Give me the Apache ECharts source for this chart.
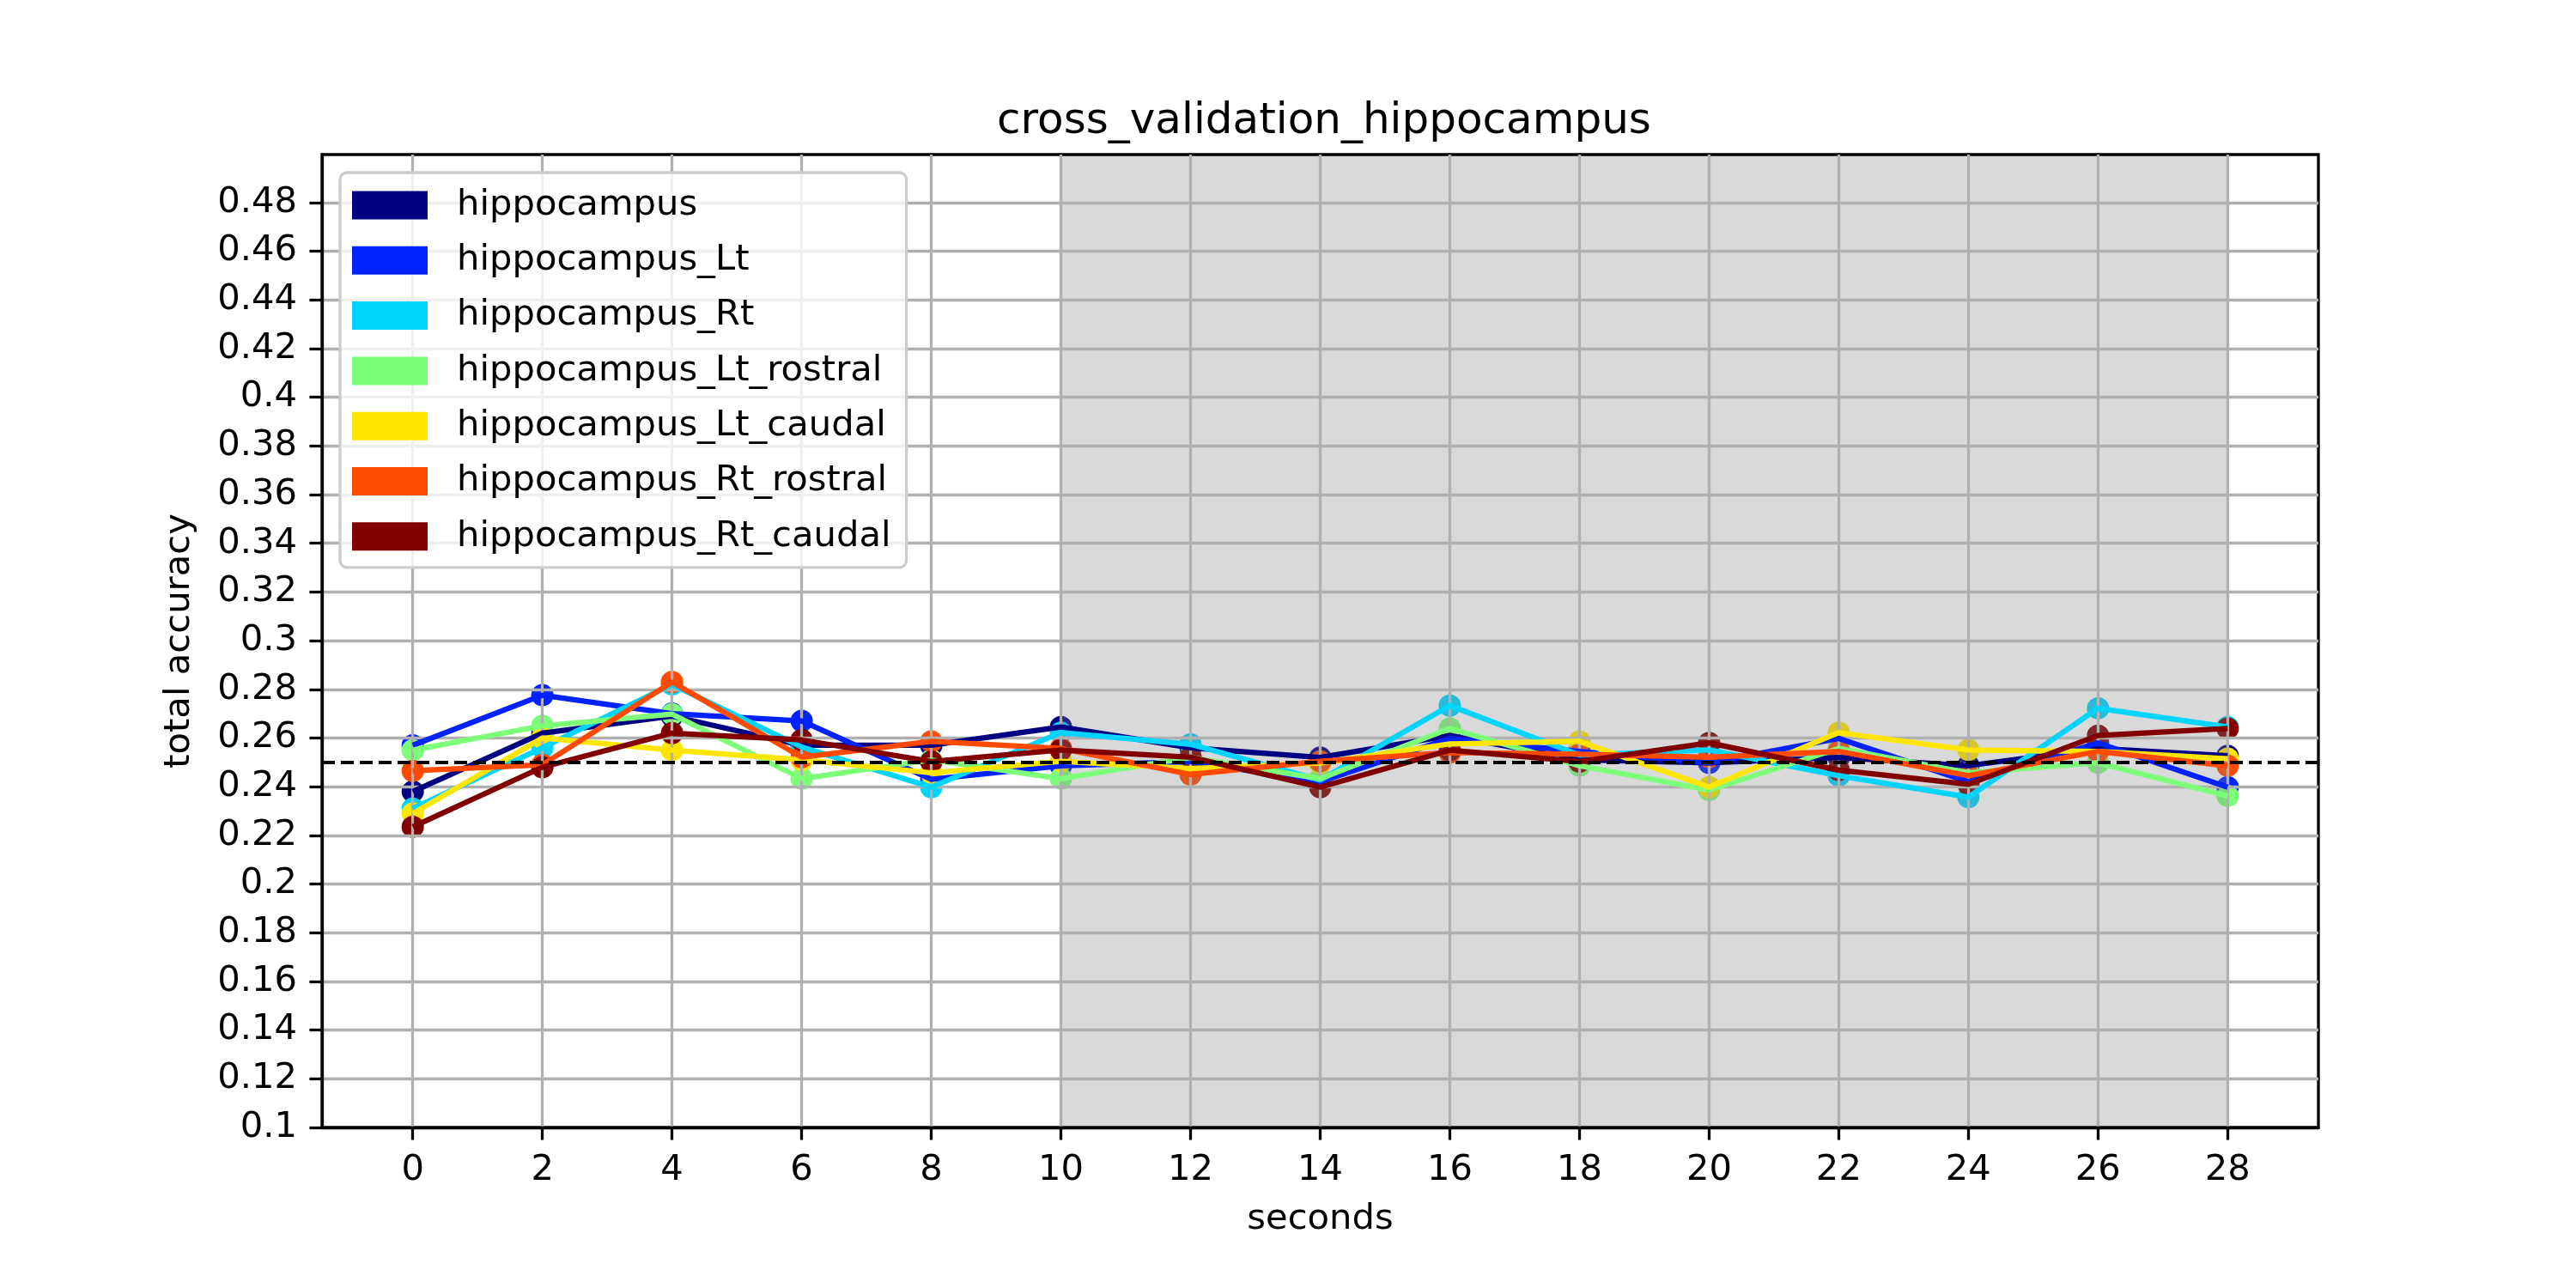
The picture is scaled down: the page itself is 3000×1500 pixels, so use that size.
<!DOCTYPE html>
<html>
<head>
<meta charset="utf-8">
<script src="https://cdn.jsdelivr.net/npm/echarts@6/dist/echarts.min.js"></script>
<style>html,body{margin:0;padding:0;background:#fff}#c{width:3000px;height:1500px}</style>
</head>
<body>
<div id="c"></div>
<script>
const seconds = [0, 2, 4, 6, 8, 10, 12, 14, 16, 18, 20, 22, 24, 26, 28];
const seriesNames = ['hippocampus', 'hippocampus_Lt', 'hippocampus_Rt', 'hippocampus_Lt_rostral', 'hippocampus_Lt_caudal', 'hippocampus_Rt_rostral', 'hippocampus_Rt_caudal'];
const seriesColors = ['#000080', '#0022ff', '#00d4ff', '#7dff7a', '#ffe600', '#ff4a00', '#800000'];
const hippocampus = [0.238, 0.262, 0.269, 0.257, 0.257, 0.2645, 0.256, 0.252, 0.261, 0.251, 0.2498, 0.252, 0.2486, 0.2557, 0.2527];
const hippocampus_Lt = [0.257, 0.2776, 0.270, 0.267, 0.243, 0.2486, 0.2503, 0.242, 0.2598, 0.2545, 0.2498, 0.2598, 0.242, 0.258, 0.2398];
const hippocampus_Rt = [0.231, 0.256, 0.282, 0.2563, 0.2398, 0.2622, 0.2574, 0.2427, 0.2733, 0.253, 0.2551, 0.2445, 0.2357, 0.2722, 0.2645];
const hippocampus_Lt_rostral = [0.255, 0.265, 0.2698, 0.2433, 0.251, 0.2433, 0.252, 0.2433, 0.2639, 0.2486, 0.2386, 0.2557, 0.2457, 0.2498, 0.2362];
const hippocampus_Lt_caudal = [0.229, 0.260, 0.255, 0.251, 0.2457, 0.2504, 0.2474, 0.2497, 0.2576, 0.2586, 0.2398, 0.2622, 0.2551, 0.2545, 0.2515];
const hippocampus_Rt_rostral = [0.2465, 0.249, 0.283, 0.2521, 0.2586, 0.2557, 0.245, 0.2504, 0.254, 0.2533, 0.2521, 0.2545, 0.2445, 0.2545, 0.2486];
const hippocampus_Rt_caudal = [0.2235, 0.248, 0.262, 0.2592, 0.2503, 0.2551, 0.2521, 0.2398, 0.255, 0.2503, 0.258, 0.2468, 0.241, 0.261, 0.2639];
const allValues = [hippocampus, hippocampus_Lt, hippocampus_Rt, hippocampus_Lt_rostral, hippocampus_Lt_caudal, hippocampus_Rt_rostral, hippocampus_Rt_caudal];
const chanceLevel = 0.25;
const shadedRange = [10, 28];
const xTicks = [0, 2, 4, 6, 8, 10, 12, 14, 16, 18, 20, 22, 24, 26, 28];
const yTicks = [0.1, 0.12, 0.14, 0.16, 0.18, 0.2, 0.22, 0.24, 0.26, 0.28, 0.3, 0.32, 0.34, 0.36, 0.38, 0.4, 0.42, 0.44, 0.46, 0.48];

const FONT = 'DejaVu Sans';
const chart = echarts.init(document.getElementById('c'), null, {renderer: 'canvas'});

const series = [];
// scatter dots (drawn below the shaded overlay, like matplotlib)
allValues.forEach((vals, i) => {
  series.push({
    name: seriesNames[i], type: 'scatter', z: 1,
    data: seconds.map((s, k) => [s, vals[k]]),
    symbolSize: 26,
    itemStyle: {color: seriesColors[i], opacity: 1},
    emphasis: {disabled: true}, silent: true
  });
});
// shaded region
series.push({
  type: 'custom', z: 2, silent: true,
  data: [shadedRange],
  encode: {x: [0, 1]},
  renderItem: function (params, api) {
    const cs = params.coordSys;
    const x0 = api.coord([api.value(0), yTicks[0]])[0];
    const x1 = api.coord([api.value(1), yTicks[0]])[0];
    return {type: 'rect', shape: {x: x0, y: cs.y, width: x1 - x0, height: cs.height},
      style: {fill: 'rgba(128,128,128,0.3)'}};
  }
});
// lines
allValues.forEach((vals, i) => {
  series.push({
    name: seriesNames[i], type: 'line', z: 4,
    data: seconds.map((s, k) => [s, vals[k]]),
    showSymbol: false, symbol: 'none',
    lineStyle: {color: seriesColors[i], width: 6.25},
    itemStyle: {color: seriesColors[i]},
    emphasis: {disabled: true}, silent: true, animation: false
  });
});
// chance line
series.push({
  type: 'line', z: 5, data: [], silent: true,
  markLine: {
    silent: true, symbol: ['none', 'none'], label: {show: false}, animation: false,
    lineStyle: {color: '#000', width: 4.2, type: [15, 7]},
    data: [{yAxis: chanceLevel}]
  }
});

chart.setOption({
  animation: false,
  backgroundColor: '#fff',
  title: {
    text: 'cross_validation_hippocampus', left: 1537, textAlign: 'center', top: 112,
    textStyle: {fontFamily: FONT, fontSize: 50, fontWeight: 'normal', color: '#000'}
  },
  grid: {left: 375, right: 300, top: 180, bottom: 187, show: true, borderColor: '#000', borderWidth: 3.3, z: 3, backgroundColor: 'transparent'},
  legend: {
    orient: 'vertical', left: 396, top: 201, z: 10,
    data: seriesNames, icon: 'rect', itemWidth: 88, itemHeight: 33, itemGap: 22.3,
    padding: [17, 18, 15, 14],
    backgroundColor: 'rgba(255,255,255,0.8)', borderColor: '#cccccc', borderWidth: 3.3, borderRadius: 8,
    textStyle: {fontFamily: FONT, fontSize: 41.7, color: '#000', padding: [0, 0, 0, 29]},
    selectedMode: false
  },
  xAxis: {
    type: 'value', min: -1.4, max: 29.4, z: 3,
    name: 'seconds', nameLocation: 'middle', nameGap: 86,
    nameTextStyle: {fontFamily: FONT, fontSize: 41.7, color: '#000'},
    axisLine: {show: true, onZero: false, lineStyle: {color: '#000', width: 3.3}},
    axisTick: {show: true, customValues: xTicks, length: 14.6, inside: false, lineStyle: {color: '#000', width: 3.3}},
    axisLabel: {customValues: xTicks, margin: 29, fontFamily: FONT, fontSize: 41.7, color: '#000'},
    splitLine: {show: true, lineStyle: {color: '#b0b0b0', width: 3.3}}
  },
  yAxis: {
    type: 'value', min: 0.1, max: 0.4997, z: 3,
    name: 'total accuracy', nameLocation: 'middle', nameGap: 145, nameRotate: 90,
    nameTextStyle: {fontFamily: FONT, fontSize: 41.7, color: '#000'},
    axisLine: {show: true, onZero: false, lineStyle: {color: '#000', width: 3.3}},
    axisTick: {show: true, customValues: yTicks, length: 14.6, lineStyle: {color: '#000', width: 3.3}},
    axisLabel: {customValues: yTicks, margin: 29, fontFamily: FONT, fontSize: 41.7, color: '#000'},
    splitLine: {show: true, lineStyle: {color: '#b0b0b0', width: 3.3}}
  },
  series: series
});
</script>
</body>
</html>
